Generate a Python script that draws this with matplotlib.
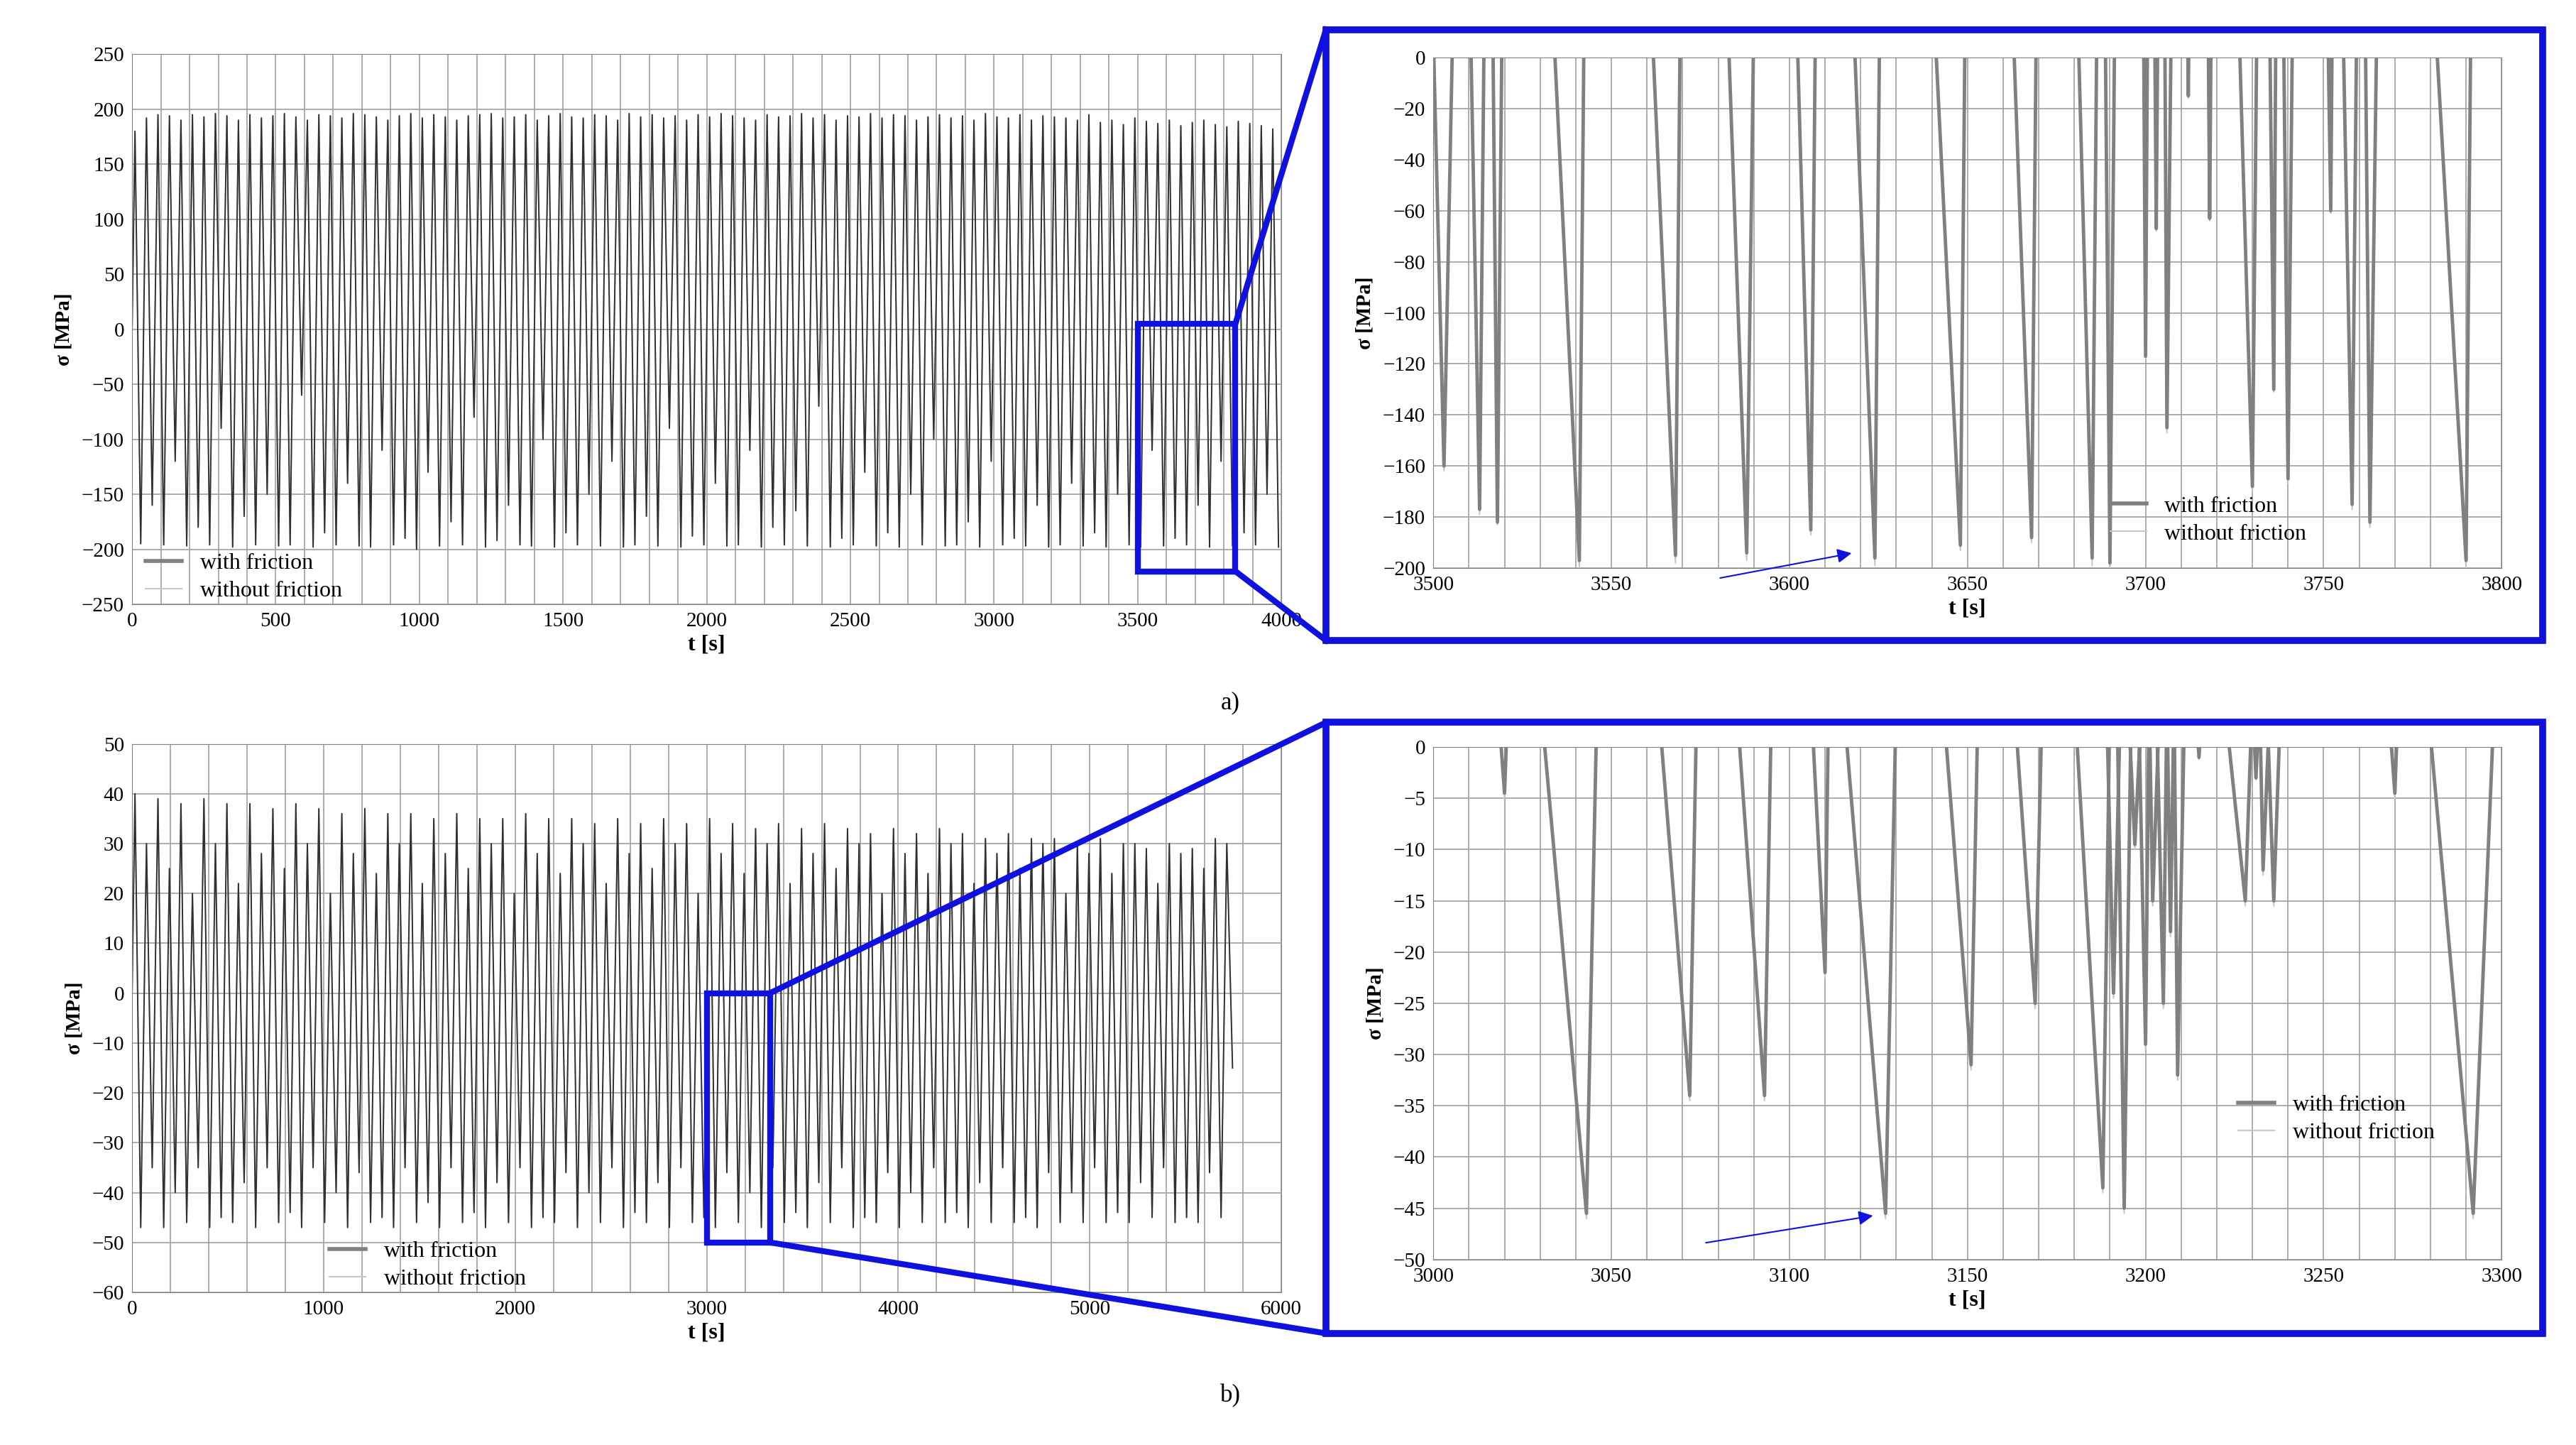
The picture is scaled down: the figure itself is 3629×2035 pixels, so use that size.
import numpy as np
import matplotlib.pyplot as plt
from matplotlib.lines import Line2D
from matplotlib.patches import Rectangle

plt.rcParams['font.family'] = ['Liberation Serif', 'DejaVu Serif']

# ---- data: panel a, full record (alternating peak / trough per cycle, period 40 s)
a_peaks = [180, 192, 195, 194, 190, 195, 193, 196, 194, 190, 195, 192, 194, 196, 193, 190, 195, 194, 192, 196,
           195, 193, 190, 194, 196, 192, 195, 193, 190, 194, 195, 196, 192, 193, 195, 190, 194, 196, 193, 192,
           195, 194, 190, 196, 193, 195, 192, 194, 190, 195, 193, 196, 194, 192, 190, 195, 193, 194, 196, 192,
           195, 190, 194, 193, 196, 192, 195, 194, 190, 193, 195, 192, 194, 190, 196, 193, 192, 195, 190, 194,
           193, 192, 190, 195, 188, 190, 186, 192, 189, 187, 190, 185, 188, 190, 186, 184, 189, 187, 185, 182]
a_troughs = [-195, -160, -196, -120, -197, -180, -196, -90, -198, -170, -196, -150, -197, -196, -60, -198, -185, -196, -140, -197,
             -198, -110, -196, -190, -200, -130, -197, -175, -196, -80, -198, -192, -160, -196, -197, -100, -198, -185, -196, -150,
             -197, -120, -198, -196, -170, -197, -90, -198, -188, -196, -140, -197, -196, -110, -198, -180, -196, -165, -197, -70,
             -198, -190, -196, -130, -197, -185, -198, -150, -196, -100, -197, -196, -175, -198, -120, -196, -190, -197, -160, -198,
             -196, -140, -197, -185, -198, -150, -196, -198, -110, -197, -190, -196, -160, -198, -120, -197, -185, -196, -150, -198]

# panel a, zoomed 3500-3800 s: trough times and values
az_t = [3503, 3513, 3518, 3541, 3568, 3588, 3606, 3624, 3648, 3668, 3685, 3690, 3700, 3703, 3706,
        3712, 3718, 3730, 3736, 3740, 3752, 3758, 3763, 3790]
az_wf = [-160, -177, -182, -197, -195, -194, -185, -196, -191, -188, -196, -198, -117, -67, -145,
         -15, -63, -168, -130, -165, -60, -175, -182, -197]
az_nf = [-162, -179, -183, -200, -198, -197, -187, -199, -193, -190, -199, -200, -118, -68, -147,
         -16, -64, -170, -131, -167, -61, -177, -184, -200]
az_start = [3498, 3509, 3516, 3530, 3558, 3580, 3600, 3615, 3637, 3660, 3679, 3688, 3699, 3702, 3705,
            3711, 3717, 3724, 3734, 3738, 3750, 3754, 3761, 3777]
az_end = [3507, 3515, 3520, 3543, 3570, 3591, 3608, 3626, 3650, 3670, 3687, 3692, 3701, 3704, 3708,
          3713, 3719, 3732, 3737, 3742, 3753, 3760, 3766, 3792]

# ---- panel b, full record (period 60 s)
b_peaks = [40, 30, 39, 25, 38, 20, 39, 30, 38, 22, 38, 28, 37, 25, 38, 30, 37, 20, 36, 28,
           37, 24, 36, 30, 36, 22, 35, 28, 36, 25, 35, 30, 35, 20, 36, 28, 35, 24, 35, 30,
           34, 22, 35, 28, 34, 25, 35, 30, 34, 20, 35, 28, 34, 24, 33, 30, 34, 22, 33, 28,
           34, 25, 33, 30, 32, 20, 33, 28, 32, 24, 33, 30, 32, 22, 31, 28, 32, 25, 31, 30,
           31, 20, 30, 28, 31, 24, 30, 30, 29, 22, 30, 28, 29, 25, 31, 30]
b_troughs = [-47, -35, -47, -40, -46, -35, -47, -45, -46, -38, -47, -35, -46, -44, -47, -35, -46, -40, -47, -36,
             -46, -45, -47, -35, -46, -42, -47, -35, -46, -44, -47, -38, -46, -35, -47, -45, -46, -36, -47, -40,
             -46, -35, -47, -44, -46, -38, -47, -35, -46, -45, -47, -36, -46, -40, -47, -35, -46, -44, -47, -38,
             -46, -35, -47, -45, -46, -36, -47, -40, -46, -35, -46, -44, -47, -38, -46, -35, -46, -45, -47, -36,
             -46, -40, -46, -35, -46, -44, -46, -38, -45, -35, -46, -45, -46, -36, -45, -15]

# panel b, zoomed 3000-3300 s
bz_t = [3020, 3043, 3072, 3093, 3110, 3127, 3151, 3169, 3188, 3191, 3194, 3197, 3200, 3202, 3205, 3207, 3209,
        3215, 3228, 3231, 3233, 3236, 3270, 3292]
bz_wf = [-4.5, -45.5, -34, -34, -22, -45.5, -31, -25, -43, -24, -45, -9.5, -29, -15, -25, -18, -32,
         -1, -15, -3, -12, -15, -4.5, -45.5]
bz_nf = [-5, -46, -34.5, -34.5, -22.5, -46, -31.5, -25.5, -43.5, -24.5, -45.5, -10, -29.5, -15.5, -25.5, -18.5, -32.5,
         -1.2, -15.5, -3.2, -12.5, -15.5, -5, -46]
bz_start = [3018, 3030, 3063, 3085, 3106, 3115, 3143, 3163, 3180, 3189, 3192, 3195, 3198, 3201, 3203, 3206, 3208,
            3214, 3222, 3230, 3232, 3234, 3268, 3279]
bz_end = [3021, 3046, 3074, 3095, 3111, 3130, 3153, 3171, 3190, 3193, 3196, 3199, 3201, 3204, 3206, 3208, 3211,
          3216, 3230, 3232, 3235, 3238, 3271, 3298]


def cycle_series(t0, period, peaks, troughs):
    t, s = [t0], [0.0]
    for i, (p, q) in enumerate(zip(peaks, troughs)):
        t += [t0 + period * i + period * 0.25, t0 + period * i + period * 0.75]
        s += [p, q]
    return np.array(t), np.array(s)


def zoom_series(starts, tt, vals, ends, top):
    t, s = [], []
    for a, b, c, v in zip(starts, tt, ends, vals):
        t += [a, b, c]
        s += [top, v, top]
    return np.array(t), np.array(s)


W, H = 3629, 2035
fig = plt.figure(figsize=(W / 100, H / 100), dpi=100)
blue = '#1010e0'
fs = 21


def fx(px):
    return px / 1560


def fy(py):
    return 1 - py / 880


def style(ax, xlim, ylim, xmaj, xgrid, ygrid):
    ax.set_xlim(*xlim)
    ax.set_ylim(*ylim)
    ax.set_xticks(np.arange(xlim[0], xlim[1] + 1, xmaj))
    ax.set_xticks(np.arange(xlim[0], xlim[1] + 1, xgrid), minor=True)
    ax.set_yticks(np.arange(ylim[0], ylim[1] + 0.01, ygrid))
    ax.tick_params(which='minor', length=0)
    ax.tick_params(labelsize=fs, length=0, pad=8)
    ax.grid(True, which='both', color='#a0a0a0', lw=1.2)
    ax.set_axisbelow(True)
    for sp in ax.spines.values():
        sp.set_color('#808080')
    ax.set_xlabel('t [s]', fontsize=fs + 2, fontweight='bold', labelpad=4)
    ax.set_ylabel('σ [MPa]', fontsize=fs, fontweight='bold', labelpad=8)


def legend(ax, loc, anchor):
    h = [Line2D([], [], color='#808080', lw=4), Line2D([], [], color='#c8c8c8', lw=1.5)]
    ax.legend(h, ['with friction', 'without friction'], loc=loc, bbox_to_anchor=anchor,
              frameon=False, fontsize=fs + 2, handlelength=1.6, borderpad=0.1, labelspacing=0.3)


# panel a left
ax1 = fig.add_axes([fx(80), fy(368), fx(776) - fx(80), fy(33) - fy(368)])
t, s = cycle_series(0, 40, a_peaks, a_troughs)
ax1.plot(t, s, color='#c8c8c8', lw=1.2)
ax1.plot(t, s, color='#303030', lw=1.4)
style(ax1, (0, 4000), (-250, 250), 500, 100, 50)
legend(ax1, 'lower left', (0.0, -0.02))

# panel a right
ax2 = fig.add_axes([fx(868), fy(346), fx(1515) - fx(868), fy(35) - fy(346)])
t, s = zoom_series(az_start, az_t, az_nf, az_end, 120)
ax2.plot(t, s, color='#c8c8c8', lw=1.5)
t, s = zoom_series(az_start, az_t, az_wf, az_end, 120)
ax2.plot(t, s, color='#808080', lw=3.5)
style(ax2, (3500, 3800), (-200, 0), 50, 10, 20)
legend(ax2, 'lower right', (0.83, 0.02))
ax2.annotate('', xy=(3618, -194), xytext=(3580, -204), annotation_clip=False,
             arrowprops=dict(arrowstyle='-|>', color=blue, lw=1.5, mutation_scale=30))

# panel b left
ax3 = fig.add_axes([fx(80), fy(787), fx(776) - fx(80), fy(453) - fy(787)])
t, s = cycle_series(0, 60, b_peaks, b_troughs)
ax3.plot(t, s, color='#c8c8c8', lw=1.2)
ax3.plot(t, s, color='#303030', lw=1.4)
style(ax3, (0, 6000), (-60, 50), 1000, 200, 10)
legend(ax3, 'lower left', (0.16, -0.02))

# panel b right
ax4 = fig.add_axes([fx(868), fy(767), fx(1515) - fx(868), fy(455) - fy(767)])
t, s = zoom_series(bz_start, bz_t, bz_nf, bz_end, 5)
ax4.plot(t, s, color='#c8c8c8', lw=1.5)
t, s = zoom_series(bz_start, bz_t, bz_wf, bz_end, 5)
ax4.plot(t, s, color='#808080', lw=3.5)
style(ax4, (3000, 3300), (-50, 0), 50, 10, 5)
legend(ax4, 'lower right', (0.95, 0.2))
ax4.annotate('', xy=(3124, -45.7), xytext=(3076, -48.4), annotation_clip=False,
             arrowprops=dict(arrowstyle='-|>', color=blue, lw=1.5, mutation_scale=30))

# zoom boxes, frames and connectors
for ax, x0, x1, y0, y1, ftop, fbot in [(ax1, 3500, 3840, -220, 5, 18, 390),
                                       (ax3, 3000, 3330, -50, 0, 440, 812)]:
    ax.add_patch(Rectangle((x0, y0), x1 - x0, y1 - y0, fill=False, ec=blue, lw=6, zorder=5, clip_on=False))
    fig.add_artist(Rectangle((fx(803), fy(fbot)), fx(1540) - fx(803), fy(ftop) - fy(fbot),
                             transform=fig.transFigure, fill=False, ec=blue, lw=7))
    for yy, fyy in [(y1, ftop), (y0, fbot)]:
        p = fig.transFigure.inverted().transform(ax.transData.transform((x1, yy)))
        fig.add_artist(Line2D([p[0], fx(803)], [p[1], fy(fyy)], transform=fig.transFigure, color=blue, lw=6))

fig.text(fx(745), fy(428), 'a)', fontsize=fs + 4, ha='center', va='center')
fig.text(fx(745), fy(850), 'b)', fontsize=fs + 4, ha='center', va='center')

fig.savefig('out.png', dpi=100, facecolor='white')
